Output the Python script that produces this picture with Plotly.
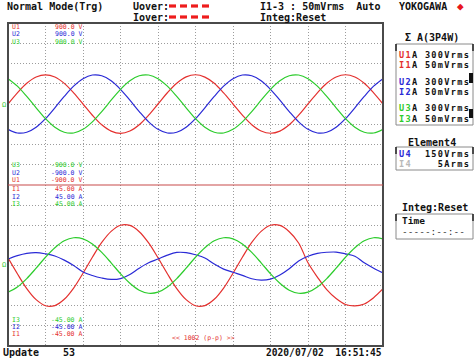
import plotly.graph_objects as go
from plotly.subplots import make_subplots

# ---------------- data ----------------
time_ms = [0, 1.25, 2.5, 3.75, 5, 6.25, 7.5, 8.75, 10, 11.25, 12.5, 13.75, 15, 16.25, 17.5, 18.75,
           20, 21.25, 22.5, 23.75, 25, 26.25, 27.5, 28.75, 30, 31.25, 32.5, 33.75, 35, 36.25, 37.5, 38.75,
           40, 41.25, 42.5, 43.75, 45, 46.25, 47.5, 48.75, 50]

u1_V = [0, 124, 230, 300, 324, 300, 229, 124, 0, -125, -231, -301, -326, -300, -230, -124,
        0, 125, 230, 301, 325, 299, 230, 123, 0, -124, -230, -300, -325, -301, -231, -124,
        1, 124, 230, 300, 325, 300, 230, 124, 0]
u2_V = [-281, -322, -314, -258, -163, -42, 84, 198, 281, 322, 314, 258, 163, 42, -84, -198,
        -281, -322, -314, -258, -163, -42, 84, 198, 281, 322, 314, 258, 163, 42, -84, -198,
        -281, -322, -314, -258, -163, -42, 84, 198, 281]
u3_V = [281, 198, 84, -42, -163, -258, -314, -322, -281, -198, -84, 42, 163, 258, 314, 322,
        281, 198, 84, -42, -163, -258, -314, -322, -281, -198, -84, 42, 163, 258, 314, 322,
        281, 198, 84, -42, -163, -258, -314, -322, -281]

i1_A = [4.3, -4.6, -12.9, -19.1, -22.5, -22.4, -18.9, -12.6, -4.3, 4.6, 12.9, 19.1, 22.5, 22.4, 18.9, 12.6,
        4.3, -4.6, -12.9, -19.1, -22.5, -22.4, -18.9, -12.6, -4.3, 4.6, 12.9, 19.1, 22.5, 22.4, 18.9, 12.6,
        1.5, -6.5, -13.5, -18.5, -21.8, -22.6, -21.5, -18.0, -13.0]
i2_A = [3.6, 5.5, 6.8, 7.2, 6.5, 5.3, 3.0, 0.0, -3.6, -5.6, -7.0, -7.8, -7.3, -5.0, -1.5, 1.5,
        3.6, 5.8, 7.3, 7.2, 6.0, 4.2, 0.8, -2.0, -3.8, -5.5, -7.4, -8.2, -7.6, -5.3, -1.8, 2.5,
        5.2, 6.8, 7.4, 7.5, 6.5, 5.2, 1.5, -1.5, -4.2]
i3_A = [-14.9, -12.0, -7.3, -1.5, 4.6, 9.9, 13.8, 15.5, 14.9, 12.0, 7.3, 1.5, -4.6, -9.9, -13.8, -15.5,
        -14.9, -12.0, -7.3, -1.5, 4.6, 9.9, 13.8, 15.5, 14.9, 12.0, 7.3, 1.5, -4.6, -9.9, -13.8, -15.5,
        -14.9, -12.0, -7.3, -1.5, 4.6, 9.9, 13.8, 15.5, 14.9]

RED = "#e4302e"
BLUE = "#2a2ad6"
GREEN = "#2ccc2c"
MONO = "DejaVu Sans Mono"

W, H = 474, 359
L, R, T, B = 8, 383, 23, 346


def px(x):
    return (x - L) / (R - L)


def py(y):
    return (B - y) / (B - T)


fig = make_subplots(rows=2, cols=1, shared_xaxes=True, vertical_spacing=0)

for name, vals, col in [("U1", u1_V, RED), ("U2", u2_V, BLUE), ("U3", u3_V, GREEN)]:
    fig.add_trace(go.Scatter(x=time_ms, y=vals, name=name, mode="lines",
                             line=dict(color=col, width=1.2, shape="spline", smoothing=1.0)),
                  row=1, col=1)
for name, vals, col in [("I1", i1_A, RED), ("I2", i2_A, BLUE), ("I3", i3_A, GREEN)]:
    fig.add_trace(go.Scatter(x=time_ms, y=vals, name=name, mode="lines",
                             line=dict(color=col, width=1.2, shape="spline", smoothing=1.0)),
                  row=2, col=1)

grid = dict(showgrid=True, gridcolor="#9c9c9c", gridwidth=1, griddash="1px,2px",
            zeroline=False, showticklabels=False, ticks="", showline=False)
fig.update_xaxes(range=[0, 50], dtick=5, tick0=0, **grid)
fig.update_yaxes(**grid)
fig.update_layout(
    yaxis=dict(range=[-900, 900], dtick=225, tick0=0, domain=[py(185), 1]),
    yaxis2=dict(range=[-45, 45], dtick=11.25, tick0=0, domain=[0, py(185)]),
)

shapes = []
# frame
shapes.append(dict(type="rect", xref="paper", yref="paper", x0=0, x1=1, y0=0, y1=1,
                   line=dict(color="#4a4a4a", width=2)))
# divider
shapes.append(dict(type="line", xref="paper", yref="paper", x0=0, x1=1, y0=py(185), y1=py(185),
                   line=dict(color="#c84a4a", width=1.2)))
# over-range red dashes
for yy in (6, 17):
    for x0 in (169, 180, 191, 202):
        shapes.append(dict(type="rect", xref="paper", yref="paper",
                           x0=px(x0), x1=px(x0 + 7), y0=py(yy + 1.6), y1=py(yy - 1.6),
                           line=dict(width=0), fillcolor="#ee1c1c"))
# right boxes
for (y0, y1) in [(44, 125), (147, 170), (214, 239)]:
    shapes.append(dict(type="rect", xref="paper", yref="paper",
                       x0=px(396), x1=px(473), y0=py(y1), y1=py(y0),
                       line=dict(color="#8a8a8a", width=1)))
    shapes.append(dict(type="line", xref="paper", yref="paper",
                       x0=px(396), x1=px(396), y0=py(y0 + 7), y1=py(y0),
                       line=dict(color="#222", width=1.5)))
    shapes.append(dict(type="line", xref="paper", yref="paper",
                       x0=px(473), x1=px(473), y0=py(y0 + 7), y1=py(y0),
                       line=dict(color="#222", width=1.5)))
# scroll markers
for (y0, y1) in [(73, 83), (109, 118)]:
    shapes.append(dict(type="rect", xref="paper", yref="paper",
                       x0=px(469), x1=px(473), y0=py(y1), y1=py(y0),
                       line=dict(width=0), fillcolor="#111"))

ann = []


def t(text, x, y, color="#111", size=10, anchor="left", bold=False, family=MONO):
    txt = text.replace(" ", "\u00a0")
    if bold:
        txt = "<b>" + txt + "</b>"
    ann.append(dict(text=txt, x=px(x), y=py(y), xref="paper", yref="paper",
                    xanchor=anchor, yanchor="middle", showarrow=False,
                    font=dict(family=family, size=size, color=color)))


def c(text, color):
    return '<span style="color:%s">%s</span>' % (color, text)


# header
t("Normal Mode(Trg)", 5, 6, bold=True)
t("Uover:", 131, 6, bold=True)
t("Iover:", 131, 17, bold=True)
t("I1-3 : 50mVrms  Auto", 258, 6, bold=True)
t("Integ:Reset", 258, 17, bold=True)
t("YOKOGAWA", 397, 6, size=10, bold=True)
t("\u25c6", 460, 6, color="#e8161c", size=11, anchor="center")

# channel scale labels
small = 6.5
for name, yy, col, val in [("U1", 27, RED, "900.0 V"), ("U2", 34.5, BLUE, "900.0 V"),
                           ("U3", 42, GREEN, "900.0 V"),
                           ("U3", 165, GREEN, "-900.0 V"), ("U2", 172.5, BLUE, "-900.0 V"),
                           ("U1", 180, RED, "-900.0 V"),
                           ("I1", 189, RED, "45.00 A"), ("I2", 196.5, BLUE, "45.00 A"),
                           ("I3", 204, GREEN, "45.00 A"),
                           ("I3", 320, GREEN, "-45.00 A"), ("I2", 327, BLUE, "-45.00 A"),
                           ("I1", 334, RED, "-45.00 A")]:
    t(name, 10, yy, color=col, size=small)
    t(val, 84, yy, color=col, size=small, anchor="right")

t("<< 1002 (p-p) >>", 204, 338, color=RED, size=6.5, anchor="center")
t("\u03a9", 4, 105, color=GREEN, size=7, anchor="center")
t("\u03a9", 4, 265, color=GREEN, size=7, anchor="center")

# right panel
t("\u03a3 A(3P4W)", 432, 38, size=10, anchor="center", bold=True)
SZ = 8.6
LS = "letter-spacing:1.3px"


def row(html, yy):
    ann.append(dict(text='<b><span style="%s">%s</span></b>' % (LS, html), x=px(397), y=py(yy),
                    xref="paper", yref="paper", xanchor="left", yanchor="middle",
                    showarrow=False, font=dict(family=MONO, size=SZ, color="#111")))


row(c("U1", RED) + "A 300Vrms", 54.5)
row(c("I1", RED) + "A 50mVrms", 65)
row(c("U2", BLUE) + "A 300Vrms", 81.5)
row(c("I2", BLUE) + "A 50mVrms", 92)
row(c("U3", GREEN) + "A 300Vrms", 108.5)
row(c("I3", GREEN) + "A 50mVrms", 119)
t("Element4", 432, 142, size=10, anchor="center", bold=True)
row(c("U4", BLUE) + "\u00a0\u00a0150Vrms", 153.5)
row(c("I4", "#b8b8b8") + "\u00a0\u00a0\u00a0\u00a05Arms", 164)
t("Integ:Reset", 435, 207, size=10, anchor="center", bold=True)
t("Time", 400, 220.5, size=9.5, bold=True)
t("-----:--:--", 400, 232, size=9.5, color="#333")

# footer
t("Update", 1, 352, bold=True)
t("53", 61, 352, bold=True)
t("2020/07/02  16:51:45", 384, 352, size=9.6, anchor="right", bold=True)

fig.update_layout(
    width=W, height=H,
    margin=dict(l=L, r=W - R, t=T, b=H - B, pad=0),
    paper_bgcolor="white", plot_bgcolor="white",
    showlegend=False,
    shapes=shapes, annotations=ann,
)

fig.write_html("out.html", config={"displayModeBar": False},
               post_script="document.body.style.margin='0px';document.body.style.overflow='hidden';")
